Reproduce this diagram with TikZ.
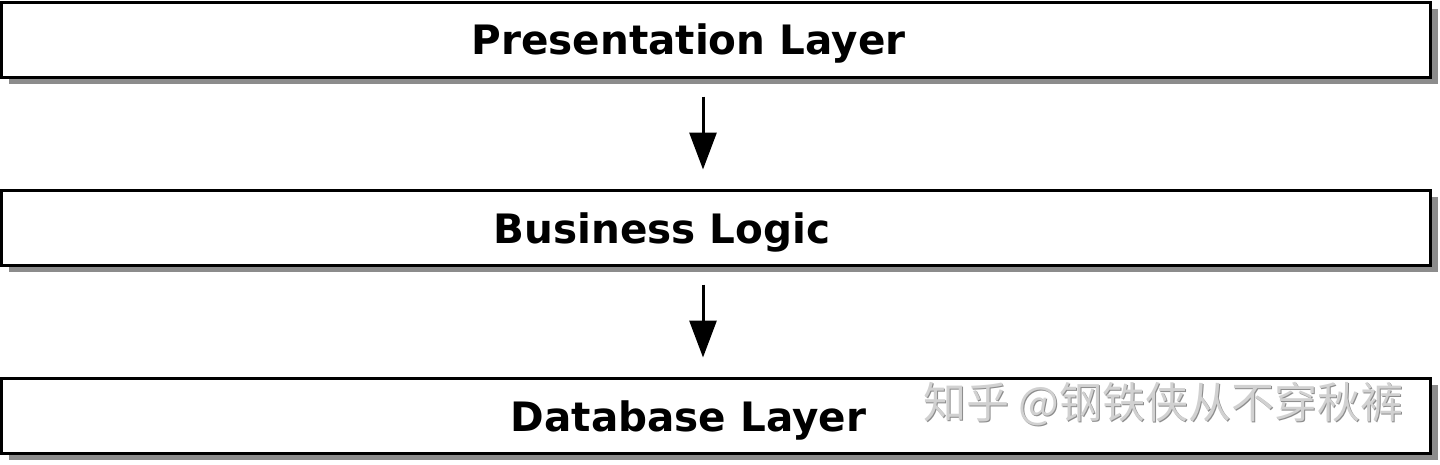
\documentclass[tikz,border=0pt]{standalone}
\usepackage{fontspec}
\setmainfont{DejaVu Sans}
\newfontfamily\cjk{Noto Sans CJK SC}
\usetikzlibrary{arrows.meta,shadows}
\begin{document}
\begin{tikzpicture}[x=1pt,y=-1pt,
  layerbox/.style={draw=black, line width=3pt, fill=white, minimum width=1429pt, minimum height=75pt, inner sep=0pt,
    drop shadow={shadow xshift=8pt, shadow yshift=-7pt, fill=black!45, opacity=1}},
  layertext/.style={font=\fontsize{40.5}{48}\selectfont\bfseries, inner sep=0pt, anchor=base},
  flow/.style={line width=3pt, -{Triangle[length=37pt,width=27pt]}, shorten <=18pt, shorten >=19pt}
]
\useasboundingbox (0,0) rectangle (1440,464);
\node[layerbox] (p) at (715.5,39.5) {};
\node[layerbox] (b) at (715.5,227.5) {};
\node[layerbox] (d) at (715.5,415.5) {};
\node[layertext] (pt) at (688.5,54.5) {Presentation Layer};
\node[layertext] (bt) at (662,243.5) {Business Logic};
\node[layertext] (dt) at (688.5,431.5) {Database Layer};
\node[font=\cjk\fontsize{43}{48}\selectfont, text=black!45, inner sep=0pt] (wms) at (1164.5,405.5) {知乎 @钢铁侠从不穿秋裤};
\node[font=\cjk\fontsize{43}{48}\selectfont, text=black!18, inner sep=0pt] (wm) at (1163.5,404.5) {知乎 @钢铁侠从不穿秋裤};
\draw[flow] ([xshift=-12.5pt]p.south) -- ([xshift=-12.5pt]b.north);
\draw[flow] ([xshift=-12.5pt]b.south) -- ([xshift=-12.5pt]d.north);
\end{tikzpicture}
\end{document}
